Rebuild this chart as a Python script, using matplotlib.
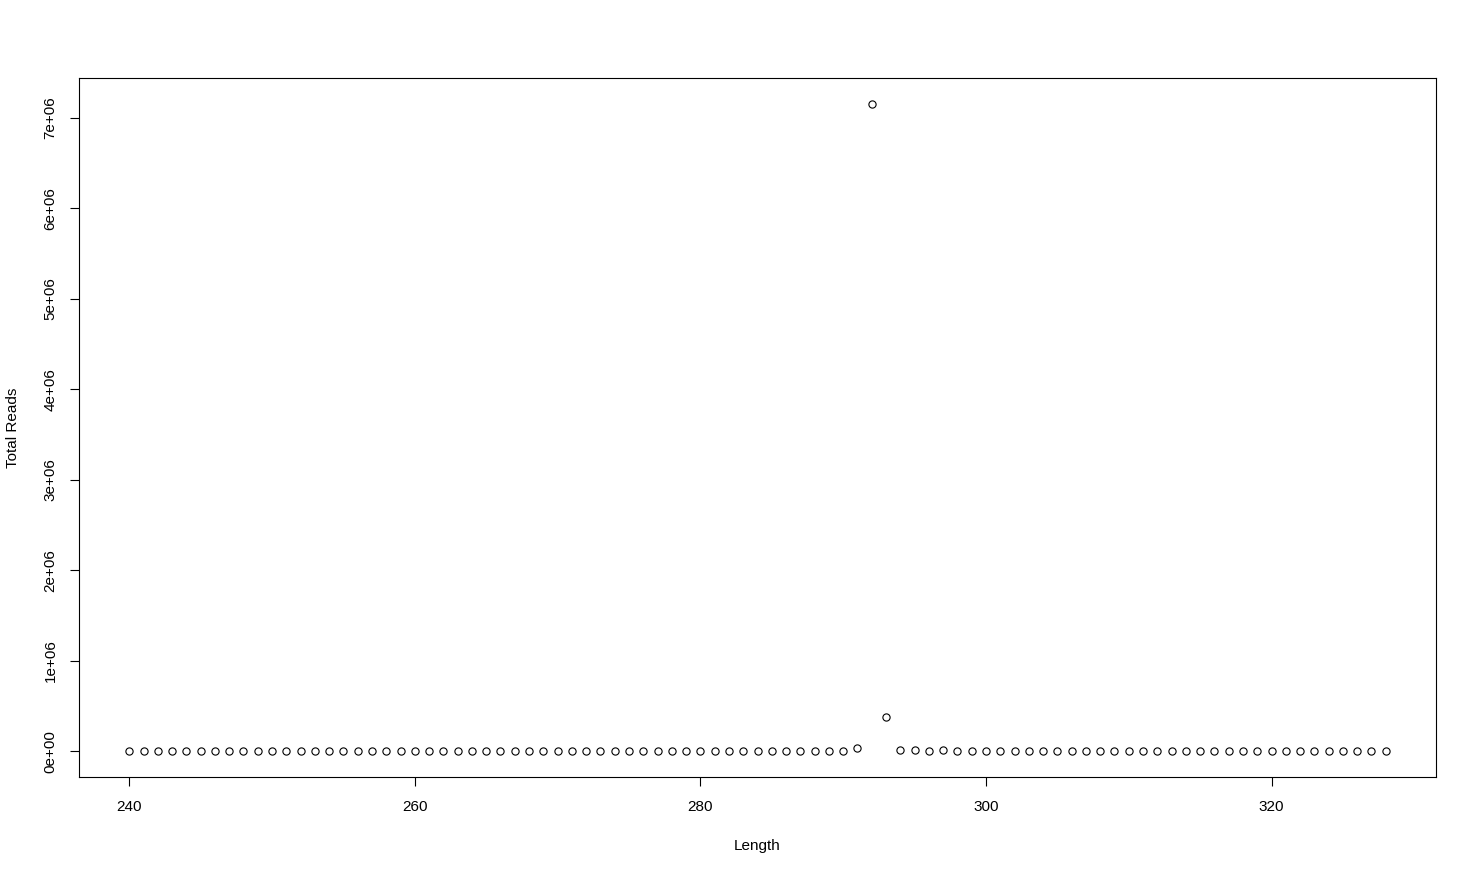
import numpy as np
import matplotlib.pyplot as plt

plt.rcParams['font.family'] = ['Liberation Sans', 'DejaVu Sans']

# read lengths 240..328 and total reads per length
length = list(range(240, 329))
total_reads = [
    8000, 2000, 1500, 1500, 1500, 1500, 1500, 1500, 1500, 1500,   # 240-249
    1500, 1500, 1500, 1500, 1500, 1500, 1500, 1500, 1500, 1500,   # 250-259
    1500, 1500, 1500, 1500, 1500, 1500, 1500, 1500, 1500, 1500,   # 260-269
    1500, 1500, 1500, 1500, 1500, 1500, 1500, 1500, 1500, 1500,   # 270-279
    1500, 1500, 1500, 1500, 1500, 1500, 1500, 2000, 2000, 2500,   # 280-289
    3000, 40000, 7155000, 383000, 19000, 11000, 3000, 15000, 3000, 2000,  # 290-299
    2000, 2000, 2000, 2000, 2000, 2000, 2000, 2000, 2000, 2000,   # 300-309
    2000, 2000, 2000, 2000, 2000, 2000, 2000, 2000, 2000, 2000,   # 310-319
    1500, 1500, 1500, 1500, 1500, 1500, 1500, 1500, 1500,        # 320-328
]
x_ticks = [240, 260, 280, 300, 320]
y_ticks = [0, 1e6, 2e6, 3e6, 4e6, 5e6, 6e6, 7e6]
y_labels = ['0e+00', '1e+06', '2e+06', '3e+06', '4e+06', '5e+06', '6e+06', '7e+06']

fig = plt.figure(figsize=(14.77, 8.76), dpi=100)
ax = fig.add_axes([79 / 1477, 1 - 777 / 876, (1436 - 79) / 1477, (777 - 78) / 876])

ax.plot(length, total_reads, linestyle='none', marker='o', markersize=5.2,
        markerfacecolor='none', markeredgecolor='black', markeredgewidth=0.8)

# R style 4% padding on both axes
xr = max(length) - min(length)
ax.set_xlim(min(length) - 0.04 * xr, max(length) + 0.04 * xr)
yr = max(total_reads) - min(total_reads)
ax.set_ylim(min(total_reads) - 0.04 * yr, max(total_reads) + 0.04 * yr)

ax.set_xticks(x_ticks)
ax.set_xticklabels([str(t) for t in x_ticks], fontsize=11)
ax.set_yticks(y_ticks)
ax.set_yticklabels(y_labels, fontsize=11, rotation=90, va='center')
ax.tick_params(axis='both', length=6.5, width=0.8, color='black')
ax.tick_params(axis='x', pad=10)
ax.tick_params(axis='y', pad=9)
for s in ax.spines.values():
    s.set_linewidth(0.8)

ax.set_xlabel('Length', fontsize=11, labelpad=18)
ax.set_ylabel('Total Reads', fontsize=11, labelpad=17)

fig.savefig('out.png', dpi=100)
